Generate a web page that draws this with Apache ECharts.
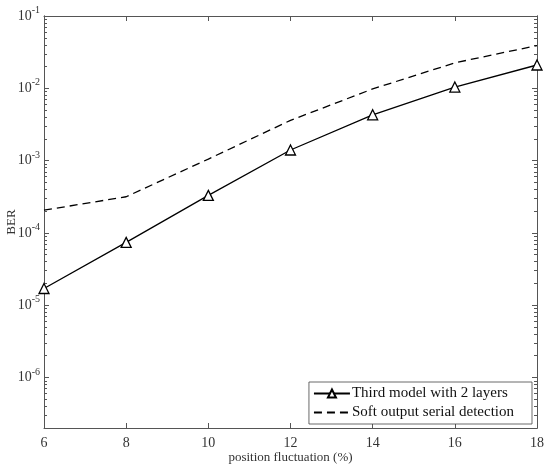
<!DOCTYPE html>
<html>
    <head>
        <meta charset="UTF-8">
        <title>BER vs position fluctuation</title>
        <script type="text/javascript" src="https://cdn.jsdelivr.net/npm/echarts@6/dist/echarts.min.js"></script>
    </head>
    <body style="height: 100%; margin: 0; overflow: hidden;">
        <div id="container" style="width: 550px; height: 469px"></div>
    </body>
    <script type="text/javascript">
        var dom = document.getElementById("container");
        var myChart = echarts.init(dom);

        // data
        var fluctuation = [6, 8, 10, 12, 14, 16, 18];
        var thirdModel = [1.7e-5, 7.4e-5, 3.3e-4, 1.4e-3, 4.3e-3, 1.04e-2, 2.1e-2];
        var softSerial = [2.06e-4, 3.16e-4, 1.05e-3, 3.6e-3, 9.8e-3, 2.25e-2, 3.9e-2];
        var xTicks = [6, 8, 10, 12, 14, 16, 18];
        var yDecades = [1e-6, 1e-5, 1e-4, 1e-3, 1e-2, 1e-1];

        var yMin = 2e-7, yMax = 1e-1;
        var font = 'Liberation Serif';
        var axisColor = '#555';

        // minor ticks at 2..9 of every decade
        var yMinor = [];
        for (var d = -7; d < -1; d++) {
            for (var k = 2; k <= 9; k++) {
                var v = k * Math.pow(10, d);
                if (v > yMin * 1.0001 && v < yMax) yMinor.push(v);
            }
        }

        function pairs(xs, ys) {
            return xs.map(function (x, i) { return [x, ys[i]]; });
        }

        function yAxisBase(pos, ticks, len, labels) {
            return {
                type: 'log',
                position: pos,
                min: yMin,
                max: yMax,
                logBase: 10,
                axisLine: { show: true, lineStyle: { color: axisColor, width: 1 } },
                axisTick: { show: true, inside: true, length: len, customValues: ticks,
                    lineStyle: { color: axisColor, width: 1 } },
                axisLabel: labels ? {
                    show: true,
                    customValues: yDecades,
                    margin: 4,
                    formatter: function (val) {
                        var e = Math.round(Math.log10(val));
                        return '{b|10}{s|' + e + '}';
                    },
                    rich: {
                        b: { fontFamily: font, fontSize: 14, color: '#333' },
                        s: { fontFamily: font, fontSize: 10, color: '#333', padding: [0, 0, 11, 0] }
                    }
                } : { show: false },
                splitLine: { show: false },
                minorTick: { show: false }
            };
        }

        function xAxisBase(pos, labels) {
            return {
                type: 'value',
                position: pos,
                min: 6,
                max: 18,
                interval: 2,
                axisLine: { show: true, onZero: false, lineStyle: { color: axisColor, width: 1 } },
                axisTick: { show: true, inside: true, length: 5, customValues: xTicks,
                    lineStyle: { color: axisColor, width: 1 } },
                axisLabel: labels ? {
                    show: true, customValues: xTicks, margin: 8,
                    fontFamily: font, fontSize: 14, color: '#333'
                } : { show: false },
                splitLine: { show: false }
            };
        }

        var xBottom = xAxisBase('bottom', true);
        xBottom.name = 'position fluctuation (%)';
        xBottom.nameLocation = 'middle';
        xBottom.nameGap = 23;
        xBottom.nameMoveOverlap = false;
        xBottom.nameTextStyle = { fontFamily: font, fontSize: 13, color: '#333' };

        var yLeft = yAxisBase('left', yDecades, 5, true);
        yLeft.name = 'BER';
        yLeft.nameLocation = 'middle';
        yLeft.nameGap = 26;
        yLeft.nameMoveOverlap = false;
        yLeft.nameTextStyle = { fontFamily: font, fontSize: 13, color: '#333' };

        var option = {
            animation: false,
            backgroundColor: '#fff',
            grid: { left: 44, right: 13, top: 16, bottom: 41, containLabel: false, outerBoundsMode: 'none' },
            xAxis: [xBottom, xAxisBase('top', false)],
            yAxis: [
                yLeft,
                yAxisBase('left', yMinor, 3, false),
                yAxisBase('right', yDecades, 5, false),
                yAxisBase('right', yMinor, 3, false)
            ],
            legend: {
                orient: 'vertical',
                right: 18,
                bottom: 45,
                padding: [4, 18, 4, 4],
                itemGap: 4,
                itemWidth: 36,
                itemHeight: 10,
                backgroundColor: '#fff',
                borderColor: '#444',
                borderWidth: 0.8,
                borderRadius: 0,
                textStyle: { fontFamily: font, fontSize: 15, color: '#111', padding: [0, 0, 0, -3] },
                data: [
                    { name: 'Third model with 2 layers' },
                    { name: 'Soft output serial detection',
                      itemStyle: { color: 'rgba(0,0,0,0)', borderWidth: 0, opacity: 0 } }
                ]
            },
            series: [
                {
                    name: 'Third model with 2 layers',
                    type: 'line',
                    data: pairs(fluctuation, thirdModel),
                    symbol: 'triangle',
                    symbolSize: 10,
                    showAllSymbol: true,
                    lineStyle: { color: '#000', width: 1.3 },
                    itemStyle: { color: '#fff', borderColor: '#000', borderWidth: 1.3 },
                    z: 3
                },
                {
                    name: 'Soft output serial detection',
                    type: 'line',
                    data: pairs(fluctuation, softSerial),
                    symbol: 'none',
                    lineStyle: { color: '#000', width: 1.3, type: [8, 5] },
                    itemStyle: { color: '#000' },
                    z: 2
                }
            ]
        };

        myChart.setOption(option);
    </script>
</html>
